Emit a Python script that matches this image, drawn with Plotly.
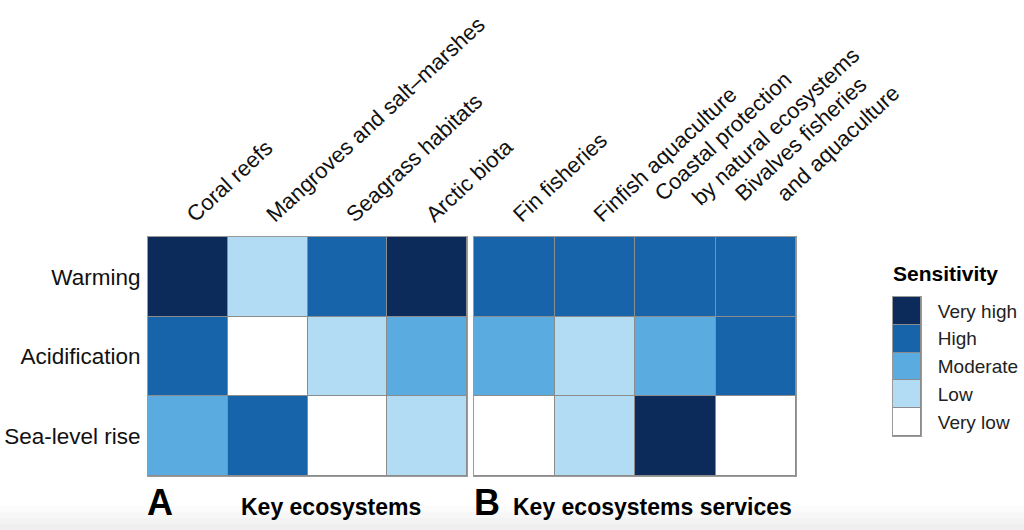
import plotly.graph_objects as go

W, H = 1024, 530

HAZARDS = ["Warming", "Acidification", "Sea-level rise"]
ECOSYSTEMS = ["Coral reefs", "Mangroves and salt–marshes", "Seagrass habitats", "Arctic biota"]
SERVICES = [
    "Fin fisheries",
    "Finfish aquaculture",
    "Coastal protection<br>\u00a0\u00a0\u00a0\u00a0by natural ecosystems",
    "Bivalves fisheries<br>\u00a0\u00a0\u00a0\u00a0\u00a0and aquaculture",
]
LEVELS = ["Very low", "Low", "Moderate", "High", "Very high"]
LEVEL_COLORS = ["#ffffff", "#b1dcf3", "#5aabdf", "#1764ab", "#0d2b5a"]

# sensitivity, one row per hazard (1 = very low ... 5 = very high)
ecosystem_scores = [
    [5, 2, 4, 5],
    [4, 1, 2, 3],
    [3, 4, 1, 2],
]
service_scores = [
    [4, 4, 4, 4],
    [3, 2, 3, 4],
    [1, 2, 5, 1],
]

FONT = "Liberation Sans, Arial, sans-serif"
TEXT = "#111111"
GRID = "#8c8c8c"
EDGE = "#9a9a9a"

n = len(LEVELS)
scale = []
for i, c in enumerate(LEVEL_COLORS):
    scale.append([i / n, c])
    scale.append([(i + 1) / n, c])

cell = dict(colorscale=scale, zmin=0.5, zmax=n + 0.5, showscale=False, xgap=1, ygap=1,
            hoverinfo="x+y+z")

fig = go.Figure()
fig.add_trace(go.Heatmap(z=ecosystem_scores, x=ECOSYSTEMS, y=HAZARDS, xaxis="x", yaxis="y", **cell))
fig.add_trace(go.Heatmap(z=service_scores, x=SERVICES, y=HAZARDS, xaxis="x2", yaxis="y2", **cell))
fig.add_trace(go.Heatmap(z=[[i + 1] for i in range(n)], x=[""], y=LEVELS, xaxis="x3", yaxis="y3", **cell))


def fx(x):
    return x / W


def fy(y):
    return 1 - y / H


common = dict(ticks="", showline=True, mirror=True, linecolor=EDGE, showgrid=False,
              zeroline=False, automargin=False)
top_axis = dict(side="top", tickangle=-43, tickfont=dict(size=22, color=TEXT),
                ticklabelstandoff=1, **common)
row_axis = dict(autorange="reversed", **common)

fig.update_layout(
    width=W, height=H,
    margin=dict(l=0, r=0, t=0, b=0, autoexpand=False),
    paper_bgcolor="#ffffff",
    plot_bgcolor=GRID,
    font=dict(family=FONT, color=TEXT),
    xaxis=dict(domain=[fx(148), fx(467)], anchor="y", **top_axis),
    yaxis=dict(domain=[fy(476), fy(237)], anchor="x", tickfont=dict(size=22.5, color=TEXT),
               ticklabelstandoff=2, **row_axis),
    xaxis2=dict(domain=[fx(474), fx(796)], anchor="y2", **top_axis),
    yaxis2=dict(domain=[fy(476), fy(237)], anchor="x2", showticklabels=False, **row_axis),
    xaxis3=dict(domain=[fx(893), fx(921)], anchor="y3", showticklabels=False, **common),
    yaxis3=dict(domain=[fy(436), fy(297)], anchor="x3", side="right", ticklabelstandoff=12,
                tickfont=dict(size=19, color="#222222"), **common),
)

# faint shadow along the bottom edge
for k, shade in enumerate(["#fbfbfb", "#f7f7f7", "#f3f3f3", "#efefef"]):
    fig.add_shape(type="rect", xref="paper", yref="paper", x0=-0.01, x1=1.01,
                  y0=-0.01, y1=(24 - 6 * k) / H, fillcolor=shade, line_width=0, layer="below")

notes = [
    ("A", 160, 502, 36),
    ("Key ecosystems", 331, 507, 23),
    ("B", 487, 502, 36),
    ("Key ecosystems services", 652, 507, 23),
]
for text, x, y, size in notes:
    fig.add_annotation(text=f"<b>{text}</b>", x=fx(x), y=fy(y), xref="paper", yref="paper",
                       showarrow=False, xanchor="center", yanchor="middle",
                       font=dict(size=size, color="#000000"))

fig.add_annotation(text="<b>Sensitivity</b>", x=fx(891), y=fy(273), xref="paper", yref="paper",
                   showarrow=False, xanchor="left", yanchor="middle",
                   font=dict(size=21, color="#000000"))

# drop the default page margin so the figure sits flush with the window
fig.write_html("out.html", config={"displayModeBar": False},
               post_script="document.body.style.margin='0';")
